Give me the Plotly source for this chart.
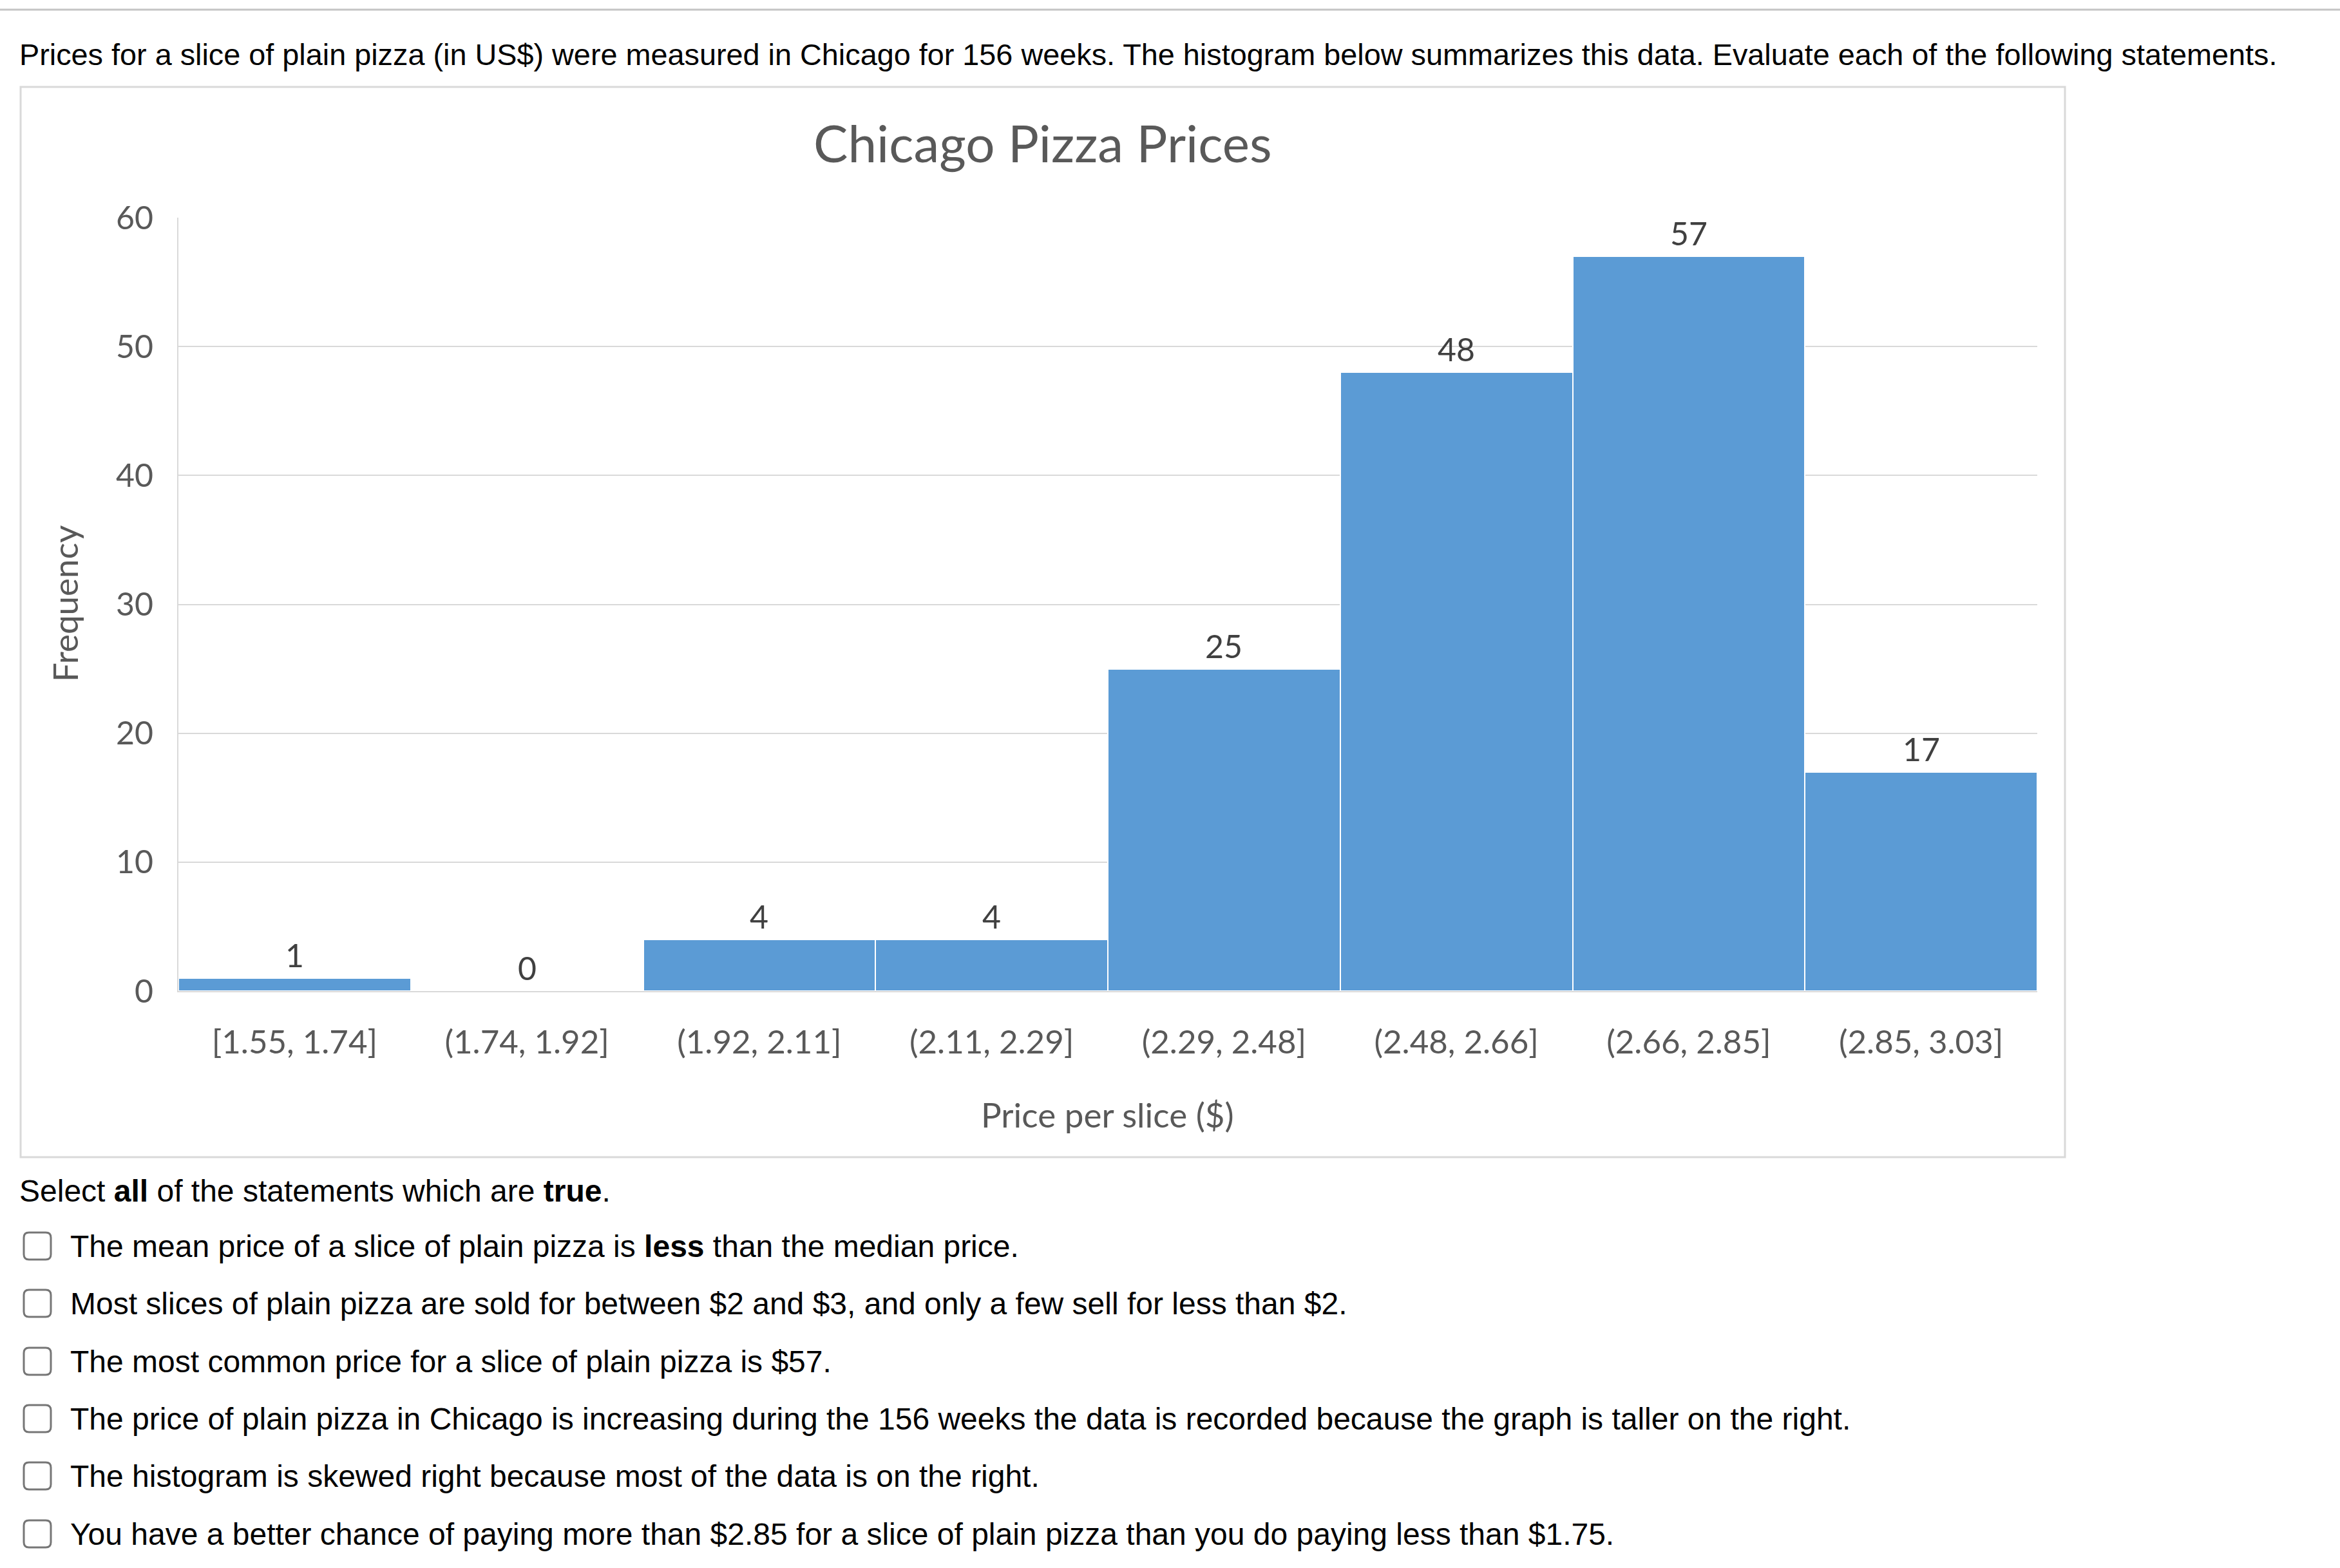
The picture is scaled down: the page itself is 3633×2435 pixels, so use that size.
import plotly.graph_objects as go

W, H = 3633, 2435

# ---- data ----
categories = ["[1.55, 1.74]", "(1.74, 1.92]", "(1.92, 2.11]", "(2.11, 2.29]",
              "(2.29, 2.48]", "(2.48, 2.66]", "(2.66, 2.85]", "(2.85, 3.03]"]
frequency = [1, 0, 4, 4, 25, 48, 57, 17]
y_ticks = [0, 10, 20, 30, 40, 50, 60]

chart_title = "Chicago Pizza Prices"
x_title = "Price per slice ($)"
y_title = "Frequency"

intro_text = ("Prices for a slice of plain pizza (in US$) were measured in Chicago for 156 weeks. "
              "The histogram below summarizes this data. Evaluate each of the following statements.")
select_text = "Select <b>all</b> of the statements which are <b>true</b>."
statements = [
    "The mean price of a slice of plain pizza is <b>less</b> than the median price.",
    "Most slices of plain pizza are sold for between $2 and $3, and only a few sell for less than $2.",
    "The most common price for a slice of plain pizza is $57.",
    "The price of plain pizza in Chicago is increasing during the 156 weeks the data is recorded because the graph is taller on the right.",
    "The histogram is skewed right because most of the data is on the right.",
    "You have a better chance of paying more than $2.85 for a slice of plain pizza than you do paying less than $1.75.",
]


def X(px):
    return px / W


def Y(py):
    return 1 - py / H


CHART_FONT = "Lato, Calibri, sans-serif"
PAGE_FONT = "Liberation Sans, Arial, Helvetica, sans-serif"
GRAY = "#595959"

fig = go.Figure()
fig.add_trace(go.Bar(
    x=categories, y=frequency,
    marker=dict(color="#5B9BD5", line=dict(color="white", width=2)),
    hoverinfo="x+y",
))

plot_l, plot_r, plot_t, plot_b = 277, 3163, 338, 1539

fig.update_layout(
    width=W, height=H,
    margin=dict(l=0, r=0, t=0, b=0, autoexpand=False),
    paper_bgcolor="white", plot_bgcolor="white",
    bargap=0, showlegend=False,
    xaxis=dict(
        domain=[X(plot_l), X(plot_r)], type="category", automargin=False,
        showgrid=False, zeroline=False,
        showline=True, linecolor="#d9d9d9", linewidth=2,
        ticks="", ticklabelstandoff=34,
        tickfont=dict(family=CHART_FONT, size=51, color=GRAY),
    ),
    yaxis=dict(
        domain=[Y(plot_b), Y(plot_t)], range=[0, 60], automargin=False,
        tickvals=y_ticks,
        showgrid=True, gridcolor="#d9d9d9", gridwidth=2,
        zeroline=False,
        showline=True, linecolor="#d9d9d9", linewidth=2,
        ticks="", ticklabelstandoff=27,
        tickfont=dict(family=CHART_FONT, size=50, color=GRAY),
    ),
)

shapes = []
# top separator line
shapes.append(dict(type="line", xref="paper", yref="paper",
                   x0=0, x1=1, y0=Y(15), y1=Y(15),
                   line=dict(color="#c4c4c4", width=3)))
# chart box border
shapes.append(dict(type="rect", xref="paper", yref="paper",
                   x0=X(32), x1=X(3206), y0=Y(1797), y1=Y(135),
                   line=dict(color="#d9d9d9", width=3), layer="below"))

annotations = []
# chart title
annotations.append(dict(text=chart_title, x=X(1619), y=Y(221), xref="paper", yref="paper",
                        xanchor="center", yanchor="middle", showarrow=False,
                        font=dict(family=CHART_FONT, size=80, color=GRAY)))
# axis titles
annotations.append(dict(text=x_title, x=X(1719), y=Y(1730), xref="paper", yref="paper",
                        xanchor="center", yanchor="middle", showarrow=False,
                        font=dict(family=CHART_FONT, size=53, color=GRAY)))
annotations.append(dict(text=y_title, x=X(100), y=Y(938), xref="paper", yref="paper",
                        xanchor="center", yanchor="middle", showarrow=False, textangle=-90,
                        font=dict(family=CHART_FONT, size=53, color=GRAY)))
# data labels
for c, v in zip(categories, frequency):
    annotations.append(dict(text=str(v), x=c, y=v, xref="x", yref="y",
                            xanchor="center", yanchor="bottom", yshift=4, showarrow=False,
                            font=dict(family=CHART_FONT, size=50, color="#404040")))

# page texts
annotations.append(dict(text=intro_text, x=X(28), y=Y(85), xref="paper", yref="paper",
                        xanchor="left", yanchor="middle", showarrow=False, align="left",
                        font=dict(family=PAGE_FONT, size=46.8, color="black")))
annotations.append(dict(text=select_text, x=X(28), y=Y(1849), xref="paper", yref="paper",
                        xanchor="left", yanchor="middle", showarrow=False, align="left",
                        font=dict(family=PAGE_FONT, size=48, color="black")))

row_centers = [1935, 2024, 2114, 2203, 2292, 2382]


def rounded_box(x0, y0, x1, y1, r):
    pts = [
        ("M", (x0 + r, y0)), ("L", (x1 - r, y0)), ("Q", (x1, y0), (x1, y0 + r)),
        ("L", (x1, y1 - r)), ("Q", (x1, y1), (x1 - r, y1)),
        ("L", (x0 + r, y1)), ("Q", (x0, y1), (x0, y1 - r)),
        ("L", (x0, y0 + r)), ("Q", (x0, y0), (x0 + r, y0)),
    ]
    s = ""
    for item in pts:
        cmd = item[0]
        coords = " ".join(f"{X(p[0]):.6f},{Y(p[1]):.6f}" for p in item[1:])
        s += f"{cmd} {coords} "
    return s + "Z"


for text, cy in zip(statements, row_centers):
    shapes.append(dict(type="path", xref="paper", yref="paper",
                       path=rounded_box(37, cy - 21, 79, cy + 21, 8),
                       line=dict(color="#767676", width=3), fillcolor="white"))
    annotations.append(dict(text=text, x=X(107), y=Y(cy), xref="paper", yref="paper",
                            xanchor="left", yanchor="middle", showarrow=False, align="left",
                            font=dict(family=PAGE_FONT, size=48, color="black")))

fig.update_layout(shapes=shapes, annotations=annotations)
fig.write_html("out.html")
